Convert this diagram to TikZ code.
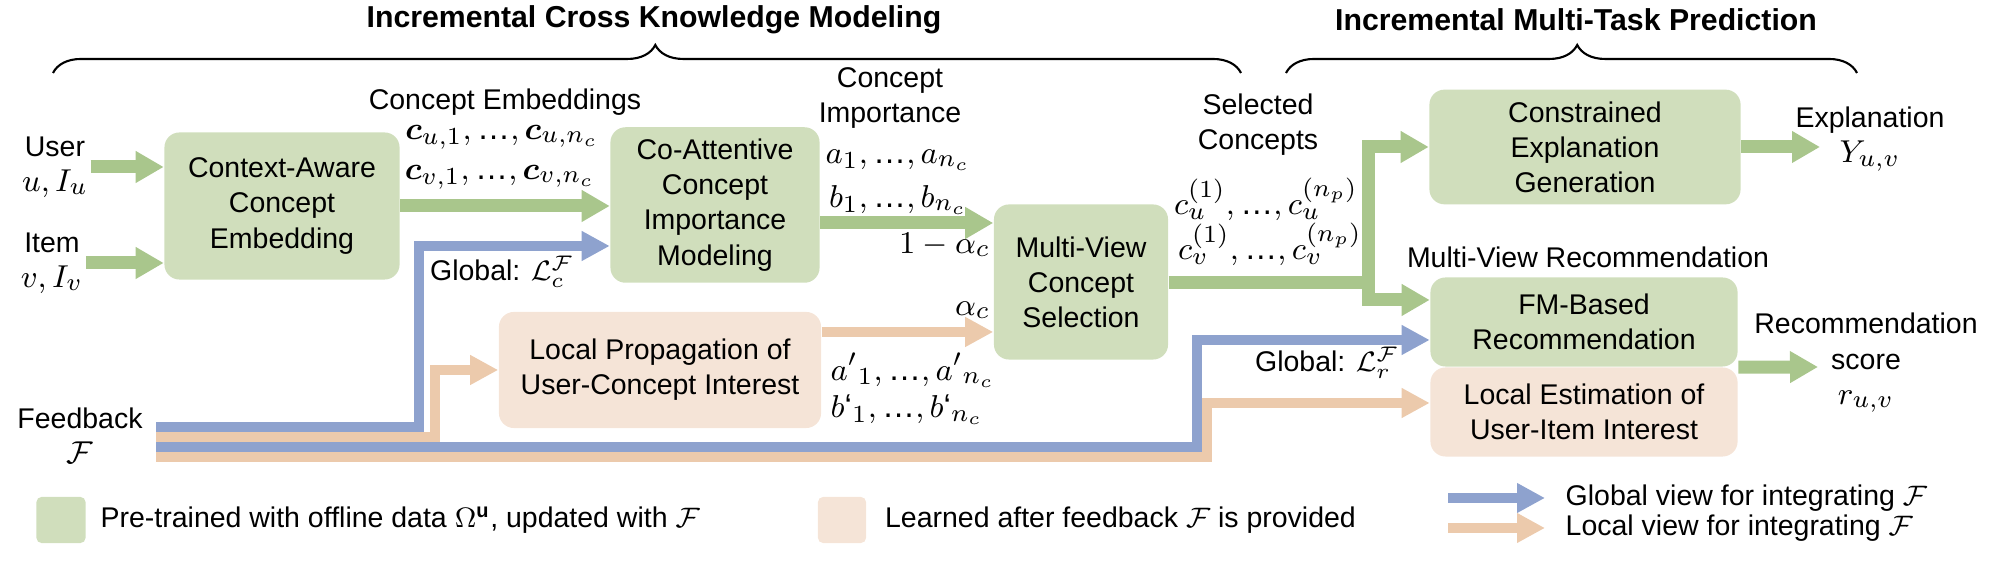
\documentclass[tikz,border=0pt]{standalone}
\usepackage{amsmath}
\usepackage{amssymb}
\usepackage{fontspec}
\setmainfont{Liberation Sans}
\usepackage{tikz}
\usetikzlibrary{arrows.meta}
\usetikzlibrary{calc}
\usetikzlibrary{decorations.pathreplacing}
\usetikzlibrary{positioning}
\tikzset{box/.style = {rounded corners=0.15cm},
         trained/.style = {box, fill=lgreen},
         learned/.style = {box, fill=lorange},
         flow/.style = {mgreen, line width=0.13cm, -{Triangle[length=0.28cm, width=0.30cm]}},
         band/.style = {line width=0.10cm, -{Triangle[length=0.28cm, width=0.28cm]}},
         mathlbl/.style = {font=\fontsize{9.4}{11}\selectfont, inner sep=0.03cm},
         title/.style = {font=\fontsize{8.6}{10}\selectfont\bfseries}}
\definecolor{mgreen}{RGB}{169,198,140}
\definecolor{lgreen}{RGB}{208,222,188}
\definecolor{morange}{RGB}{236,202,172}
\definecolor{lorange}{RGB}{245,228,215}
\definecolor{mblue}{RGB}{142,162,206}
\newcommand{\mfont}{\fontsize{9.4}{10}\selectfont}
\newcommand{\dd}{\text{…}}

\begin{document}
\begin{tikzpicture}[x = 0.01cm, y = -0.01cm, font = \fontsize{8.1}{10}\selectfont, align = center]
      \useasboundingbox (0, 0) rectangle (1994, 562);
      \node [title] (tcross) at (654, 20) {Incremental Cross Knowledge Modeling};
      \node [title] (tmulti) at (1576, 20) {Incremental Multi-Task Prediction};
      \draw [decorate, decoration = {brace, amplitude = 0.28cm, aspect = 0.507}, line width = 0.6pt] (53, 73) -- (1241, 73);
      \draw [decorate, decoration = {brace, amplitude = 0.28cm, aspect = 0.51}, line width = 0.6pt] (1286, 73) -- (1857, 73);

      \node [trained, minimum width = 2.35cm, minimum height = 1.47cm] (ctx) at (282, 206) {Context-Aware\\Concept\\Embedding};
      \node [trained, minimum width = 2.09cm, minimum height = 1.53cm] (coatt) at (715, 205) {Co-Attentive\\Concept\\Importance\\Modeling};
      \node [learned, minimum width = 3.22cm, minimum height = 1.16cm] (lprop) at (660, 370) {Local Propagation of\\User-Concept Interest};
      \node [trained, minimum width = 1.74cm, minimum height = 1.55cm] (mvsel) at (1081, 282) {Multi-View\\Concept\\Selection};
      \node [trained, minimum width = 3.11cm, minimum height = 1.11cm] (expl) at (1585, 147) {Constrained\\Explanation\\Generation};
      \node [trained, minimum width = 3.07cm, minimum height = 0.89cm] (fm) at (1584, 322) {FM-Based\\Recommendation};
      \node [learned, minimum width = 3.07cm, minimum height = 0.89cm] (lest) at (1584, 412) {Local Estimation of\\User-Item Interest};

      \node [inner sep = 0.02cm] (user) at (55, 167) {User\\{\mfont$u, I_u$}};
      \node [inner sep = 0.02cm] (item) at (52, 263) {Item\\{\mfont$v, I_v$}};
      \node [inner xsep = 0.13cm] (fb) at (80, 436) {Feedback\\{\mfont$\mathcal{F}$}};
      \node (cemb) at (505, 102) {Concept Embeddings};
      \node [mathlbl] (cu) at (502, 137) {$\boldsymbol{c}_{u,1}, \dd, \boldsymbol{c}_{u,n_c}$};
      \node [mathlbl] (cv) at (500, 177) {$\boldsymbol{c}_{v,1}, \dd, \boldsymbol{c}_{v,n_c}$};
      \node (cimp) at (890, 98) {Concept\\Importance};
      \node [mathlbl] (aimp) at (898, 160) {$a_1, \dd, a_{n_c}$};
      \node [mathlbl] (bimp) at (898, 200) {$b_1, \dd, b_{n_c}$};
      \node [mathlbl, anchor = east, inner sep = 0pt] (wglob) at (991, 245) {$1 - \alpha_c$};
      \node [mathlbl, anchor = east, inner sep = 0pt] (wloc) at (991, 310) {$\alpha_c$};
      \node [mathlbl, anchor = west, inner sep = 0pt] (aloc) at (830, 370) {${a'}_1, \dd, {a'}_{n_c}$};
      \node [mathlbl, anchor = west, inner sep = 0pt] (bloc) at (830, 410) {${b\text{‘}}_1, \dd, {b\text{‘}}_{n_c}$};
      \node (gc) at (502, 272) {Global: $\mathcal{L}_c^{\mathcal{F}}$};
      \node (selc) at (1258, 125) {Selected\\Concepts};
      \node [mathlbl] (cusel) at (1266, 199) {$c_u^{(1)}, \dd, c_u^{(n_p)}$};
      \node [mathlbl] (cvsel) at (1270, 244) {$c_v^{(1)}, \dd, c_v^{(n_p)}$};
      \node (mvrec) at (1588, 257) {Multi-View Recommendation};
      \node (gr) at (1327, 363) {Global: $\mathcal{L}_r^{\mathcal{F}}$};
      \node (explout) at (1870, 139) {Explanation\\{\mfont$Y_{u,v}$}};
      \node (rec) at (1866, 363) {Recommendation\\score\\{\mfont$r_{u,v}$}};

      \coordinate (split) at (1368, 283);
      \coordinate (explin) at (1820, 147);
      \coordinate (recin) at (1818, 367);
      \coordinate (gbend1) at (419, 246);
      \coordinate (lbend1) at (435, 370);
      \coordinate (gbend2) at (1197, 340);
      \coordinate (lbend2) at (1207, 403);

      \draw [flow] (user.east) -- (user.east -| ctx.west);
      \draw [flow] (item.east) -- (item.east -| ctx.west);
      \draw [flow] (ctx.east) -- (ctx.east -| coatt.west);
      \draw [flow] ([yshift = -0.18cm]coatt.east) -- ([yshift = -0.18cm]coatt.east -| mvsel.west);
      \draw [flow] (mvsel.east |- split) -- (split) |- (expl.west);
      \draw [flow] (split) |- ([yshift = 0.22cm]fm.west);
      \draw [flow] (expl.east) -- (explin);
      \draw [flow] (fm.south east) -- (recin);

      \draw [band, mblue] ([yshift = 0.09cm]fb.east) -| (gbend1) -- (gbend1 -| coatt.west);
      \draw [band, morange] ([yshift = -0.01cm]fb.east) -| (lbend1) -- (lbend1 -| lprop.west);
      \draw [band, mblue] ([yshift = -0.11cm]fb.east) -| (gbend2) -- (gbend2 -| fm.west);
      \draw [band, morange] ([yshift = -0.21cm]fb.east) -| (lbend2) -- (lbend2 -| lest.west);
      \draw [band, morange] ([yshift = 0.38cm]lprop.east) -- ([yshift = 0.38cm]lprop.east -| mvsel.west);

      \node [trained, minimum width = 0.49cm, minimum height = 0.46cm, rounded corners = 0.05cm] (keytrained) at (61, 520) {};
      \node [right = 0.02cm of keytrained] (keytrainedtxt) {Pre-trained with offline data $\Omega^{\mathbf{u}}$, updated with $\mathcal{F}$};
      \node [learned, minimum width = 0.48cm, minimum height = 0.46cm, rounded corners = 0.05cm] (keylearned) at (842, 520) {};
      \node [right = 0.06cm of keylearned] (keylearnedtxt) {Learned after feedback $\mathcal{F}$ is provided};
      \node [anchor = west, inner xsep = 0.2cm] (keyglob) at (1545, 498) {Global view for integrating $\mathcal{F}$};
      \node [anchor = west, inner xsep = 0.2cm] (keyloc) at (1545, 528) {Local view for integrating $\mathcal{F}$};
      \coordinate (keyglobin) at (1448, 498);
      \coordinate (keylocin) at (1448, 528);
      \draw [band, mblue] (keyglobin) -- (keyglob.west);
      \draw [band, morange] (keylocin) -- (keyloc.west);
    \end{tikzpicture}
\end{document}
